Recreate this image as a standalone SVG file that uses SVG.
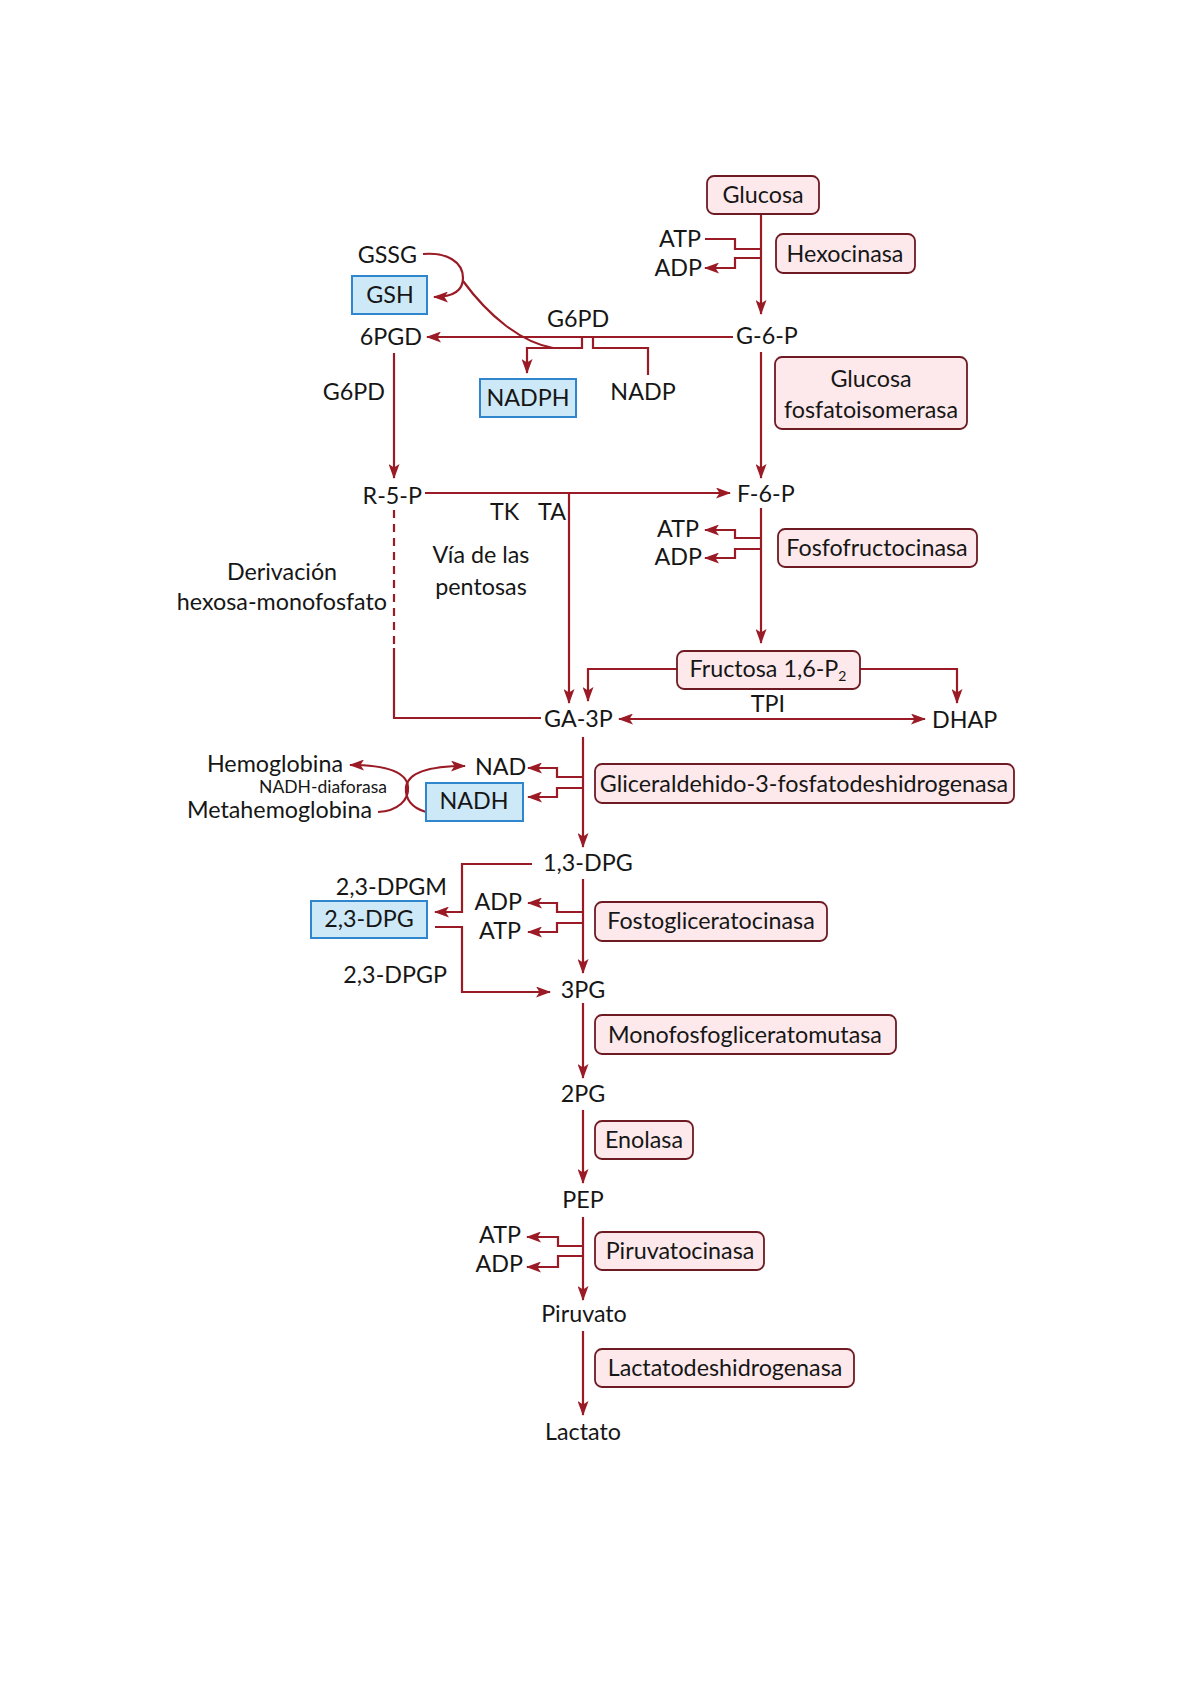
<svg xmlns="http://www.w3.org/2000/svg" width="1200" height="1694" viewBox="0 0 1200 1694">
<defs>
<marker id="ah" viewBox="0 0 15 11" refX="14" refY="5.5" markerWidth="15" markerHeight="11" orient="auto-start-reverse" markerUnits="userSpaceOnUse">
<path d="M0,0 L15,5.5 L0,11 L3.5,5.5 z" fill="#9a1b25"/>
</marker>
<style>
text{font-family:Lato,"Open Sans","Noto Sans",sans-serif;font-size:23.3px;fill:#161616}
.sm{font-size:17.5px}
.c{text-anchor:middle}
.e{text-anchor:end}
.enz{fill:#fde9eb;stroke:#6e1a22;stroke-width:1.8}
.blue{fill:#cde9f8;stroke:#2f86cc;stroke-width:2}
.ln{fill:none;stroke:#9a1b25;stroke-width:2.2}
.ar{marker-end:url(#ah)}
.dash{stroke-dasharray:8,6}
</style>
</defs>
<rect width="1200" height="1694" fill="#ffffff"/>

<g id="connectors">
<path class="ln ar" d="M761,214 V314"/>
<path class="ln" d="M705,239 H735 V249 H761"/>
<path class="ln ar" d="M761,258 H735 V268 H705"/>
<path class="ln ar" d="M761,352 V478"/>
<path class="ln ar" d="M733,337 H427"/>
<path class="ln ar" d="M582,337 V348 H527 V373"/>
<path class="ln" d="M593,337 V348 H648 V375"/>
<path class="ln ar" d="M423,254 C447,252 463,262 463,278 C463,291 452,297 434,297"/>
<path class="ln" d="M463,281 C488,315 520,342 553,348"/>
<path class="ln ar" d="M394,353 V478"/>
<path class="ln ar" d="M425,493 H730"/>
<path class="ln ar" d="M569,493 V703"/>
<path class="ln dash" d="M394,510 V644"/>
<path class="ln" d="M394,648 V718 H541"/>
<path class="ln ar" d="M761,508 V643"/>
<path class="ln ar" d="M761,538 H735 V530 H705"/>
<path class="ln ar" d="M761,549 H735 V558 H705"/>
<path class="ln ar" d="M677,669 H588 V701"/>
<path class="ln ar" d="M860,669 H957 V703"/>
<path class="ln ar" d="M619,719 H925" marker-start="url(#ah)"/>
<path class="ln ar" d="M583,737 V847"/>
<path class="ln ar" d="M583,777 H557 V768 H528"/>
<path class="ln ar" d="M583,788 H557 V797 H528"/>
<path class="ln ar" d="M378,812 C398,811 409,800 408,787 C407,773 390,765 350,765"/>
<path class="ln ar" d="M426,812 C412,808 405,799 406,787 C408,773 428,766 465,766"/>
<path class="ln ar" d="M532,864 H462 V912 H435"/>
<path class="ln ar" d="M435,927 H462 V992 H550"/>
<path class="ln ar" d="M583,879 V973"/>
<path class="ln ar" d="M583,912 H557 V903 H528"/>
<path class="ln ar" d="M583,923 H557 V932 H528"/>
<path class="ln ar" d="M583,1003 V1078"/>
<path class="ln ar" d="M583,1110 V1183"/>
<path class="ln ar" d="M583,1217 V1300"/>
<path class="ln ar" d="M583,1246 H558 V1237 H527"/>
<path class="ln ar" d="M583,1256 H558 V1267 H527"/>
<path class="ln ar" d="M583,1331 V1415"/>
</g>

<g id="n-glucosa"><rect class="enz" x="707" y="176" width="112" height="38" rx="7"/><text class="c" x="763" y="203">Glucosa</text></g>
<g id="n-hexocinasa"><rect class="enz" x="776" y="234" width="139" height="39" rx="7"/><text class="c" x="845" y="262">Hexocinasa</text></g>
<g id="n-atp1"><text class="e" x="701" y="247">ATP</text></g>
<g id="n-adp1"><text class="e" x="702" y="276">ADP</text></g>
<g id="n-g6p"><text x="736" y="344">G-6-P</text></g>
<g id="n-gpi"><rect class="enz" x="775" y="357" width="192" height="72" rx="7"/><text class="c" x="871" y="387">Glucosa</text><text class="c" x="871" y="418">fosfatoisomerasa</text></g>
<g id="n-gssg"><text class="e" x="417" y="263">GSSG</text></g>
<g id="n-gsh"><rect class="blue" x="352" y="276" width="75" height="38"/><text class="c" x="390" y="303">GSH</text></g>
<g id="n-6pgd"><text class="e" x="422" y="345">6PGD</text></g>
<g id="n-g6pd-top"><text class="c" x="578" y="327">G6PD</text></g>
<g id="n-nadph"><rect class="blue" x="480" y="379" width="96" height="38"/><text class="c" x="528" y="406">NADPH</text></g>
<g id="n-nadp"><text class="c" x="643" y="400">NADP</text></g>
<g id="n-g6pd-left"><text class="e" x="385" y="400">G6PD</text></g>
<g id="n-r5p"><text class="e" x="422" y="504">R-5-P</text></g>
<g id="n-tk"><text x="490" y="520">TK</text></g>
<g id="n-ta"><text x="538" y="520">TA</text></g>
<g id="n-f6p"><text x="737" y="502">F-6-P</text></g>
<g id="n-derivacion"><text class="c" x="282" y="580">Derivación</text><text class="e" x="387" y="610">hexosa-monofosfato</text></g>
<g id="n-via"><text class="c" x="481" y="563">Vía de las</text><text class="c" x="481" y="595">pentosas</text></g>
<g id="n-atp2"><text class="e" x="699" y="537">ATP</text></g>
<g id="n-adp2"><text class="e" x="702" y="565">ADP</text></g>
<g id="n-pfk"><rect class="enz" x="778" y="529" width="199" height="38" rx="7"/><text class="c" x="877" y="556">Fosfofructocinasa</text></g>
<g id="n-f16p2"><rect class="enz" x="677" y="651" width="183" height="38" rx="7"/><text class="c" x="768" y="677">Fructosa  1,6-P<tspan font-size="14" dy="4">2</tspan></text></g>
<g id="n-tpi"><text class="c" x="768" y="712">TPI</text></g>
<g id="n-ga3p"><text x="544" y="727">GA-3P</text></g>
<g id="n-dhap"><text x="932" y="728">DHAP</text></g>
<g id="n-hemoglobina"><text class="e" x="343" y="772">Hemoglobina</text></g>
<g id="n-diaforasa"><text class="sm e" x="387" y="793">NADH-diaforasa</text></g>
<g id="n-metahemoglobina"><text class="e" x="372" y="818">Metahemoglobina</text></g>
<g id="n-nad"><text x="475" y="775">NAD</text></g>
<g id="n-nadh"><rect class="blue" x="426" y="783" width="97" height="38"/><text class="c" x="474" y="809">NADH</text></g>
<g id="n-gapdh"><rect class="enz" x="595" y="764" width="419" height="39" rx="7"/><text class="c" x="804" y="792">Gliceraldehido-3-fosfatodeshidrogenasa</text></g>
<g id="n-13dpg"><text x="543" y="871">1,3-DPG</text></g>
<g id="n-dpgm"><text class="e" x="447" y="895">2,3-DPGM</text></g>
<g id="n-23dpg"><rect class="blue" x="311" y="901" width="116" height="37"/><text class="c" x="369" y="927">2,3-DPG</text></g>
<g id="n-dpgp"><text class="e" x="447" y="983">2,3-DPGP</text></g>
<g id="n-adp3"><text class="e" x="522" y="910">ADP</text></g>
<g id="n-atp3"><text class="e" x="521" y="939">ATP</text></g>
<g id="n-pgk"><rect class="enz" x="595" y="902" width="232" height="39" rx="7"/><text class="c" x="711" y="929">Fostogliceratocinasa</text></g>
<g id="n-3pg"><text class="c" x="583" y="998">3PG</text></g>
<g id="n-pgm"><rect class="enz" x="595" y="1015" width="301" height="39" rx="7"/><text class="c" x="745" y="1043">Monofosfogliceratomutasa</text></g>
<g id="n-2pg"><text class="c" x="583" y="1102">2PG</text></g>
<g id="n-enolasa"><rect class="enz" x="595" y="1121" width="98" height="38" rx="7"/><text class="c" x="644" y="1148">Enolasa</text></g>
<g id="n-pep"><text class="c" x="583" y="1208">PEP</text></g>
<g id="n-atp4"><text class="e" x="521" y="1243">ATP</text></g>
<g id="n-adp4"><text class="e" x="523" y="1272">ADP</text></g>
<g id="n-pk"><rect class="enz" x="595" y="1232" width="169" height="38" rx="7"/><text class="c" x="680" y="1259">Piruvatocinasa</text></g>
<g id="n-piruvato"><text class="c" x="584" y="1322">Piruvato</text></g>
<g id="n-ldh"><rect class="enz" x="595" y="1349" width="259" height="38" rx="7"/><text class="c" x="725" y="1376">Lactatodeshidrogenasa</text></g>
<g id="n-lactato"><text class="c" x="583" y="1440">Lactato</text></g>
</svg>
